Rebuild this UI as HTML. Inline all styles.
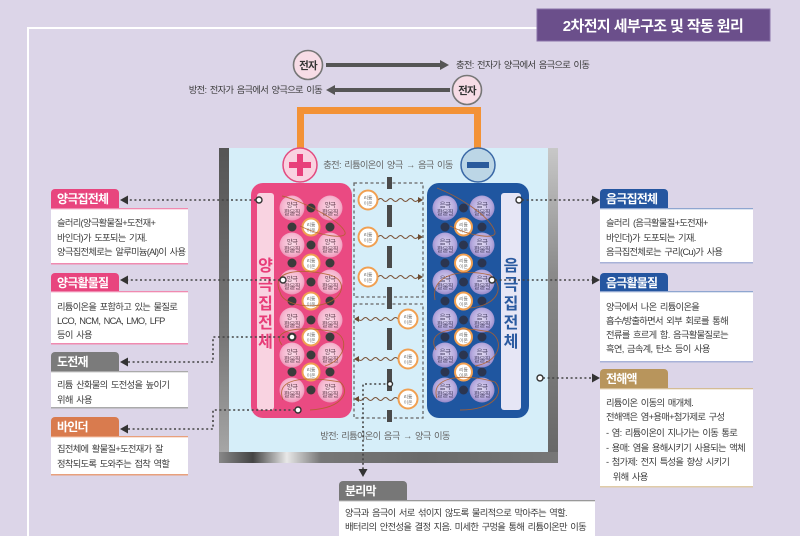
<!DOCTYPE html>
<html><head><meta charset="utf-8"><style>
html,body{margin:0;padding:0;background:#dcd5e8;}
svg{display:block;}
text{font-family:"Liberation Sans","Noto Sans CJK KR",sans-serif;}
.b{font-size:9.3px;fill:#3c3c3c;letter-spacing:-0.7px;word-spacing:1.5px;}
.t{font-size:12px;fill:#fff;font-weight:bold;letter-spacing:-0.8px;}
.p{font-size:6.5px;text-anchor:middle;letter-spacing:-0.6px;}
.li{font-size:4.8px;fill:#777;text-anchor:middle;}
.vt{font-size:16px;font-weight:bold;text-anchor:middle;}
</style></head><body>
<svg width="800" height="536" viewBox="0 0 800 536" xmlns="http://www.w3.org/2000/svg">
<defs>
<radialGradient id="pg" cx="50%" cy="45%" r="55%"><stop offset="0" stop-color="#fbdce8"/><stop offset="0.7" stop-color="#f5b6cf"/><stop offset="1" stop-color="#ee94b8"/></radialGradient>
<radialGradient id="bg" cx="50%" cy="45%" r="55%"><stop offset="0" stop-color="#ddd6f0"/><stop offset="0.7" stop-color="#b6aade"/><stop offset="1" stop-color="#9688c8"/></radialGradient>
<linearGradient id="lb" x1="0" y1="0" x2="0" y2="1"><stop offset="0" stop-color="#555"/><stop offset="0.6" stop-color="#777"/><stop offset="1" stop-color="#aaa"/></linearGradient>
<linearGradient id="rb" x1="0" y1="0" x2="0" y2="1"><stop offset="0" stop-color="#c8c8c8"/><stop offset="0.4" stop-color="#8a8a8a"/><stop offset="1" stop-color="#666"/></linearGradient>
<linearGradient id="bb" x1="0" y1="0" x2="1" y2="0"><stop offset="0" stop-color="#888"/><stop offset="0.1" stop-color="#444"/><stop offset="0.2" stop-color="#e8e8e8"/><stop offset="0.3" stop-color="#777"/><stop offset="0.6" stop-color="#6a6a6a"/><stop offset="1" stop-color="#777"/></linearGradient>
<g id="pp"><circle r="12.5" fill="url(#pg)"/><text class="p" y="-1" fill="#6a4656">양극</text><text class="p" y="6.5" fill="#6a4656">활물질</text></g>
<g id="bp"><circle r="12.5" fill="url(#bg)"/><text class="p" y="-1" fill="#4a4468">음극</text><text class="p" y="6.5" fill="#4a4468">활물질</text></g>
<g id="ion"><circle r="9.5" fill="#fff" stroke="#f0a052" stroke-width="2"/><text class="li" y="-0.5">리튬</text><text class="li" y="5">이온</text></g>
<g id="ion2"><circle r="8.5" fill="#fff" stroke="#f0a052" stroke-width="2"/><text class="li" y="-0.5">리튬</text><text class="li" y="5">이온</text></g>
</defs>

<!-- frame lines -->
<path d="M28 536 V28 H540" fill="none" stroke="#fff" stroke-width="2"/>
<!-- title -->
<rect x="537" y="9" width="233" height="32" fill="#6b4f8b" stroke="#8a72a8" stroke-width="1"/>
<text x="653" y="31" text-anchor="middle" style="font-size:15px;font-weight:bold;fill:#fff;letter-spacing:-0.6px;">2차전지 세부구조 및 작동 원리</text>

<!-- electrons -->
<line x1="326" y1="65" x2="441" y2="65" stroke="#555" stroke-width="4"/>
<polygon points="440,60 449,65 440,70" fill="#555"/>
<circle cx="308" cy="65" r="14.5" fill="#f7dce6" stroke="#777" stroke-width="1.6"/>
<text x="308" y="69" text-anchor="middle" style="font-size:10.5px;font-weight:bold;fill:#333;letter-spacing:-0.8px;">전자</text>
<text x="456" y="68" class="b">충전: 전자가 양극에서 음극으로 이동</text>
<line x1="450" y1="90" x2="334" y2="90" stroke="#555" stroke-width="4"/>
<polygon points="335,85 326,90 335,95" fill="#555"/>
<circle cx="467" cy="90" r="14.5" fill="#f7dce6" stroke="#777" stroke-width="1.6"/>
<text x="467" y="94" text-anchor="middle" style="font-size:10.5px;font-weight:bold;fill:#333;letter-spacing:-0.8px;">전자</text>
<text x="322" y="93" class="b" text-anchor="end">방전: 전자가 음극에서 양극으로 이동</text>

<!-- case -->
<rect x="229" y="148" width="319" height="304" fill="#d6eef9"/>
<rect x="219" y="148" width="10" height="315" fill="url(#lb)"/>
<rect x="548" y="148" width="10" height="315" fill="url(#rb)"/>
<rect x="219" y="452" width="339" height="11" fill="url(#bb)"/>

<!-- wire -->
<path d="M300.5 150 V110.5 H477.5 V150" fill="none" stroke="#f39236" stroke-width="7"/>
<circle cx="300" cy="165" r="17" fill="#f9d2e0" stroke="#e24b80" stroke-width="1.5"/>
<rect x="289" y="162" width="22" height="6" fill="#e8407a"/>
<rect x="297" y="154" width="6" height="22" fill="#e8407a"/>
<circle cx="478" cy="165" r="17" fill="#bcd6e6" stroke="#3a68a6" stroke-width="1.5"/>
<rect x="467" y="162" width="22" height="6" fill="#2a5a9c"/>
<text x="388" y="168" text-anchor="middle" class="b" style="fill:#666;">충전: 리튬이온이 양극 → 음극 이동</text>
<text x="385" y="439" text-anchor="middle" class="b" style="fill:#666;">방전: 리튬이온이 음극 → 양극 이동</text>

<!-- cathode -->
<rect x="251" y="183" width="101" height="235" rx="12" fill="#ea4a82"/>
<rect x="257" y="193" width="17" height="217" rx="3" fill="#f9d3e1"/>
<text class="vt" x="265.5" y="271" fill="#e83c78">양</text>
<text class="vt" x="265.5" y="290" fill="#e83c78">극</text>
<text class="vt" x="265.5" y="309" fill="#e83c78">집</text>
<text class="vt" x="265.5" y="328" fill="#e83c78">전</text>
<text class="vt" x="265.5" y="347" fill="#e83c78">체</text>
<!-- anode -->
<rect x="427" y="183" width="102" height="235" rx="12" fill="#1f56a0"/>
<rect x="501" y="193" width="20" height="217" rx="3" fill="#e6e6f5"/>
<text class="vt" x="511" y="271" fill="#2a5aa0">음</text>
<text class="vt" x="511" y="290" fill="#2a5aa0">극</text>
<text class="vt" x="511" y="309" fill="#2a5aa0">집</text>
<text class="vt" x="511" y="328" fill="#2a5aa0">전</text>
<text class="vt" x="511" y="347" fill="#2a5aa0">체</text>

<!-- cathode particles -->
<g>
<use href="#pp" x="292" y="208"/><use href="#pp" x="330" y="208"/>
<use href="#pp" x="292" y="245"/><use href="#pp" x="330" y="245"/>
<use href="#pp" x="292" y="282"/><use href="#pp" x="330" y="282"/>
<use href="#pp" x="292" y="320"/><use href="#pp" x="330" y="320"/>
<use href="#pp" x="292" y="355"/><use href="#pp" x="330" y="355"/>
<use href="#pp" x="292" y="390"/><use href="#pp" x="330" y="390"/>
</g>
<g fill="#3b3b3b">
<circle cx="311" cy="208" r="4.5"/><circle cx="311" cy="245" r="4.5"/><circle cx="311" cy="282" r="4.5"/><circle cx="311" cy="320" r="4.5"/><circle cx="311" cy="355" r="4.5"/><circle cx="311" cy="390" r="4.5"/>
<circle cx="292" cy="227" r="4.5"/><circle cx="330" cy="227" r="4.5"/>
<circle cx="292" cy="263" r="4.5"/><circle cx="330" cy="263" r="4.5"/>
<circle cx="292" cy="301" r="4.5"/><circle cx="330" cy="301" r="4.5"/>
<circle cx="292" cy="337" r="4.5"/><circle cx="330" cy="337" r="4.5"/>
<circle cx="292" cy="372" r="4.5"/><circle cx="330" cy="372" r="4.5"/>
</g>
<use href="#ion2" x="311" y="227"/><use href="#ion2" x="311" y="263"/><use href="#ion2" x="311" y="301"/><use href="#ion2" x="311" y="337"/><use href="#ion2" x="311" y="372"/>
<g fill="none" stroke="#b0602a" stroke-width="0.9" opacity="0.85">
<path d="M282 196 C300 200 340 220 345 232 C348 240 320 236 300 226"/>
<path d="M280 292 C270 270 300 268 330 275 C348 280 345 300 320 305 C300 308 282 302 280 292"/>
<path d="M282 345 C270 330 300 325 335 332 C350 338 345 360 325 366"/>
<path d="M283 400 C275 380 300 375 340 382 C350 390 345 408 310 410"/>
</g>

<!-- anode particles -->
<g>
<use href="#bp" x="445" y="208"/><use href="#bp" x="482" y="208"/>
<use href="#bp" x="445" y="245"/><use href="#bp" x="482" y="245"/>
<use href="#bp" x="445" y="282"/><use href="#bp" x="482" y="282"/>
<use href="#bp" x="445" y="320"/><use href="#bp" x="482" y="320"/>
<use href="#bp" x="445" y="355"/><use href="#bp" x="482" y="355"/>
<use href="#bp" x="445" y="390"/><use href="#bp" x="482" y="390"/>
</g>
<g fill="#2b3550">
<circle cx="463.5" cy="208" r="4.5"/><circle cx="463.5" cy="245" r="4.5"/><circle cx="463.5" cy="282" r="4.5"/><circle cx="463.5" cy="320" r="4.5"/><circle cx="463.5" cy="355" r="4.5"/><circle cx="463.5" cy="390" r="4.5"/>
<circle cx="445" cy="227" r="4.5"/><circle cx="482" cy="227" r="4.5"/>
<circle cx="445" cy="263" r="4.5"/><circle cx="482" cy="263" r="4.5"/>
<circle cx="445" cy="301" r="4.5"/><circle cx="482" cy="301" r="4.5"/>
<circle cx="445" cy="337" r="4.5"/><circle cx="482" cy="337" r="4.5"/>
<circle cx="445" cy="372" r="4.5"/><circle cx="482" cy="372" r="4.5"/>
</g>
<use href="#ion2" x="463.5" y="227"/><use href="#ion2" x="463.5" y="263"/><use href="#ion2" x="463.5" y="301"/><use href="#ion2" x="463.5" y="337"/><use href="#ion2" x="463.5" y="372"/>
<g fill="none" stroke="#b0602a" stroke-width="0.9" opacity="0.85">
<path d="M437 188 C455 195 490 215 495 232 C497 240 470 236 450 226"/>
<path d="M435 300 C430 275 460 268 490 275 C505 285 500 305 470 308"/>
<path d="M436 350 C425 330 455 325 490 332 C505 340 500 362 475 366"/>
<path d="M437 398 C430 378 460 372 495 382 C505 392 495 410 460 410"/>
</g>

<!-- separator zone -->
<g fill="none" stroke="#666" stroke-width="1.3" stroke-dasharray="3 2.5">
<rect x="354" y="183" width="69" height="114"/>
<rect x="354" y="304" width="69" height="114"/>
</g>
<g fill="#4a4a4a">
<rect x="387" y="177" width="5" height="12"/>
<rect x="387" y="205" width="5" height="22"/>
<rect x="387" y="246" width="5" height="22"/>
<rect x="387" y="287" width="5" height="22"/>
<rect x="387" y="328" width="5" height="22"/>
<rect x="387" y="369" width="5" height="22"/>
<rect x="387" y="410" width="5" height="12"/>
</g>
<g fill="none" stroke="#7a5238" stroke-width="1">
<path d="M378 200 q2.5 -3 5 0 t5 0 t5 0 t5 0 t5 0 t5 0 t5 0 t5 0"/>
<path d="M378 237 q2.5 -3 5 0 t5 0 t5 0 t5 0 t5 0 t5 0 t5 0 t5 0"/>
<path d="M378 277 q2.5 -3 5 0 t5 0 t5 0 t5 0 t5 0 t5 0 t5 0 t5 0"/>
<path d="M398 319 q-2.5 -3 -5 0 t-5 0 t-5 0 t-5 0 t-5 0 t-5 0 t-5 0 t-5 0"/>
<path d="M398 359 q-2.5 -3 -5 0 t-5 0 t-5 0 t-5 0 t-5 0 t-5 0 t-5 0 t-5 0"/>
<path d="M398 399 q-2.5 -3 -5 0 t-5 0 t-5 0 t-5 0 t-5 0 t-5 0 t-5 0 t-5 0"/>
</g>
<g fill="#6a4a30">
<polygon points="418,197 423,200 418,203"/><polygon points="418,234 423,237 418,240"/><polygon points="418,274 423,277 418,280"/>
<polygon points="359,316 354,319 359,322"/><polygon points="359,356 354,359 359,362"/><polygon points="359,396 354,399 359,402"/>
</g>
<use href="#ion" x="368" y="200"/><use href="#ion" x="368" y="237"/><use href="#ion" x="368" y="277"/>
<use href="#ion" x="408" y="319"/><use href="#ion" x="408" y="359"/><use href="#ion" x="408" y="399"/>

<!-- leader lines -->
<g fill="none" stroke="#444" stroke-width="1.6" stroke-dasharray="2 2.6">
<path d="M256 200 H127"/>
<path d="M280 280 H127"/>
<path d="M289 337 H213 V362 H127"/>
<path d="M295 410 H213 V429 H127"/>
<path d="M522 200 H594"/>
<path d="M495 280 H594"/>
<path d="M543 378 H594"/>
<path d="M390 384 H363 V470"/>
</g>
<g fill="#333">
<polygon points="128,195.5 120,200 128,204.5"/>
<polygon points="128,275.5 120,280 128,284.5"/>
<polygon points="128,357.5 120,362 128,366.5"/>
<polygon points="128,424.5 120,429 128,433.5"/>
<polygon points="592,195.5 600,200 592,204.5"/>
<polygon points="592,275.5 600,280 592,284.5"/>
<polygon points="592,373.5 600,378 592,382.5"/>
<polygon points="358.5,469 367.5,469 363,477"/>
</g>
<g fill="#fff" stroke="#333" stroke-width="1.4">
<circle cx="259" cy="200" r="3"/><circle cx="283" cy="280" r="3"/><circle cx="292" cy="337" r="3"/><circle cx="298" cy="410" r="3"/>
<circle cx="519" cy="200" r="3"/><circle cx="492" cy="280" r="3"/><circle cx="540" cy="378" r="3"/><circle cx="390" cy="384" r="2.5"/>
</g>

<!-- LEFT BOXES -->
<g>
<path d="M51 208 V193 a4 4 0 0 1 4 -4 H115 a4 4 0 0 1 4 4 V208 Z" fill="#e8457e"/>
<text class="t" x="57" y="203">양극집전체</text>
<rect x="51" y="209" width="137" height="55" fill="#fff"/>
<rect x="51" y="208" width="137" height="1.3" fill="#f08ab0"/>
<rect x="51" y="263" width="137" height="1.5" fill="#f08ab0"/>
<text class="b" x="57" y="226">슬러리(양극활물질+도전재+</text>
<text class="b" x="57" y="241">바인더)가 도포되는 기재.</text>
<text class="b" x="57" y="255">양극집전체로는 알루미늄(Al)이 사용</text>
</g>
<g>
<path d="M51 291 V277 a4 4 0 0 1 4 -4 H115 a4 4 0 0 1 4 4 V291 Z" fill="#e8457e"/>
<text class="t" x="57" y="287">양극활물질</text>
<rect x="51" y="292" width="137" height="52" fill="#fff"/>
<rect x="51" y="291" width="137" height="1.3" fill="#f08ab0"/>
<rect x="51" y="343" width="137" height="1.5" fill="#f08ab0"/>
<text class="b" x="57" y="310">리튬이온을 포함하고 있는 물질로</text>
<text class="b" x="57" y="324">LCO, NCM, NCA, LMO, LFP</text>
<text class="b" x="57" y="338">등이 사용</text>
</g>
<g>
<path d="M51 371 V356 a4 4 0 0 1 4 -4 H115 a4 4 0 0 1 4 4 V371 Z" fill="#7b7b7b"/>
<text class="t" x="57" y="366">도전재</text>
<rect x="51" y="372" width="137" height="36" fill="#fff"/>
<rect x="51" y="371" width="137" height="1.3" fill="#aaa"/>
<rect x="51" y="407" width="137" height="1.5" fill="#aaa"/>
<text class="b" x="57" y="388">리튬 산화물의 도전성을 높이기</text>
<text class="b" x="57" y="403">위해 사용</text>
</g>
<g>
<path d="M51 436 V421 a4 4 0 0 1 4 -4 H115 a4 4 0 0 1 4 4 V436 Z" fill="#d97b4e"/>
<text class="t" x="57" y="431">바인더</text>
<rect x="51" y="437" width="137" height="38" fill="#fff"/>
<rect x="51" y="436" width="137" height="1.3" fill="#e8a07c"/>
<rect x="51" y="474" width="137" height="1.5" fill="#e8a07c"/>
<text class="b" x="57" y="452">집전체에 활물질+도전재가 잘</text>
<text class="b" x="57" y="467">정착되도록 도와주는 접착 역할</text>
</g>

<!-- RIGHT BOXES -->
<g>
<path d="M600 208 V193 a4 4 0 0 1 4 -4 H664 a4 4 0 0 1 4 4 V208 Z" fill="#2556a0"/>
<text class="t" x="606" y="203">음극집전체</text>
<rect x="600" y="209" width="153" height="54" fill="#fff"/>
<rect x="600" y="208" width="153" height="1.3" fill="#8fa6d0"/>
<rect x="600" y="262" width="153" height="1.5" fill="#a8b2d8"/>
<text class="b" x="606" y="226">슬러리 (음극활물질+도전재+</text>
<text class="b" x="606" y="241">바인더)가 도포되는 기재.</text>
<text class="b" x="606" y="255">음극집전체로는 구리(Cu)가 사용</text>
</g>
<g>
<path d="M600 291 V277 a4 4 0 0 1 4 -4 H664 a4 4 0 0 1 4 4 V291 Z" fill="#2556a0"/>
<text class="t" x="606" y="287">음극활물질</text>
<rect x="600" y="292" width="153" height="70" fill="#fff"/>
<rect x="600" y="291" width="153" height="1.3" fill="#8fa6d0"/>
<rect x="600" y="361" width="153" height="1.5" fill="#a8b2d8"/>
<text class="b" x="606" y="310">양극에서 나온 리튬이온을</text>
<text class="b" x="606" y="324">흡수/방출하면서 외부 회로를 통해</text>
<text class="b" x="606" y="338">전류를 흐르게 함. 음극활물질로는</text>
<text class="b" x="606" y="352">흑연, 금속계, 탄소 등이 사용</text>
</g>
<g>
<path d="M600 388 V373 a4 4 0 0 1 4 -4 H664 a4 4 0 0 1 4 4 V388 Z" fill="#b8955c"/>
<text class="t" x="606" y="383">전해액</text>
<rect x="600" y="389" width="153" height="98" fill="#fff"/>
<rect x="600" y="388" width="153" height="1.3" fill="#d4bc94"/>
<rect x="600" y="486" width="153" height="1.5" fill="#e0cca8"/>
<text class="b" x="606" y="406">리튬이온 이동의 매개체.</text>
<text class="b" x="606" y="420">전해액은 염+용매+첨가제로 구성</text>
<text class="b" x="606" y="436">- 염: 리튬이온이 지나가는 이동 통로</text>
<text class="b" x="606" y="451">- 용매: 염을 용해시키기 사용되는 액체</text>
<text class="b" x="606" y="465">- 첨가제: 전지 특성을 향상 시키기</text>
<text class="b" x="606" y="480">&#160;&#160;위해 사용</text>
</g>
<g>
<path d="M339 500 V485 a4 4 0 0 1 4 -4 H403 a4 4 0 0 1 4 4 V500 Z" fill="#777"/>
<text class="t" x="345" y="495">분리막</text>
<rect x="339" y="501" width="256" height="40" fill="#fff"/>
<rect x="339" y="500" width="256" height="1.3" fill="#999"/>
<text class="b" x="345" y="516">양극과 음극이 서로 섞이지 않도록 물리적으로 막아주는 역할.</text>
<text class="b" x="345" y="530">배터리의 안전성을 결정 지음. 미세한 구멍을 통해 리튬이온만 이동</text>
</g>
</svg>
</body></html>
